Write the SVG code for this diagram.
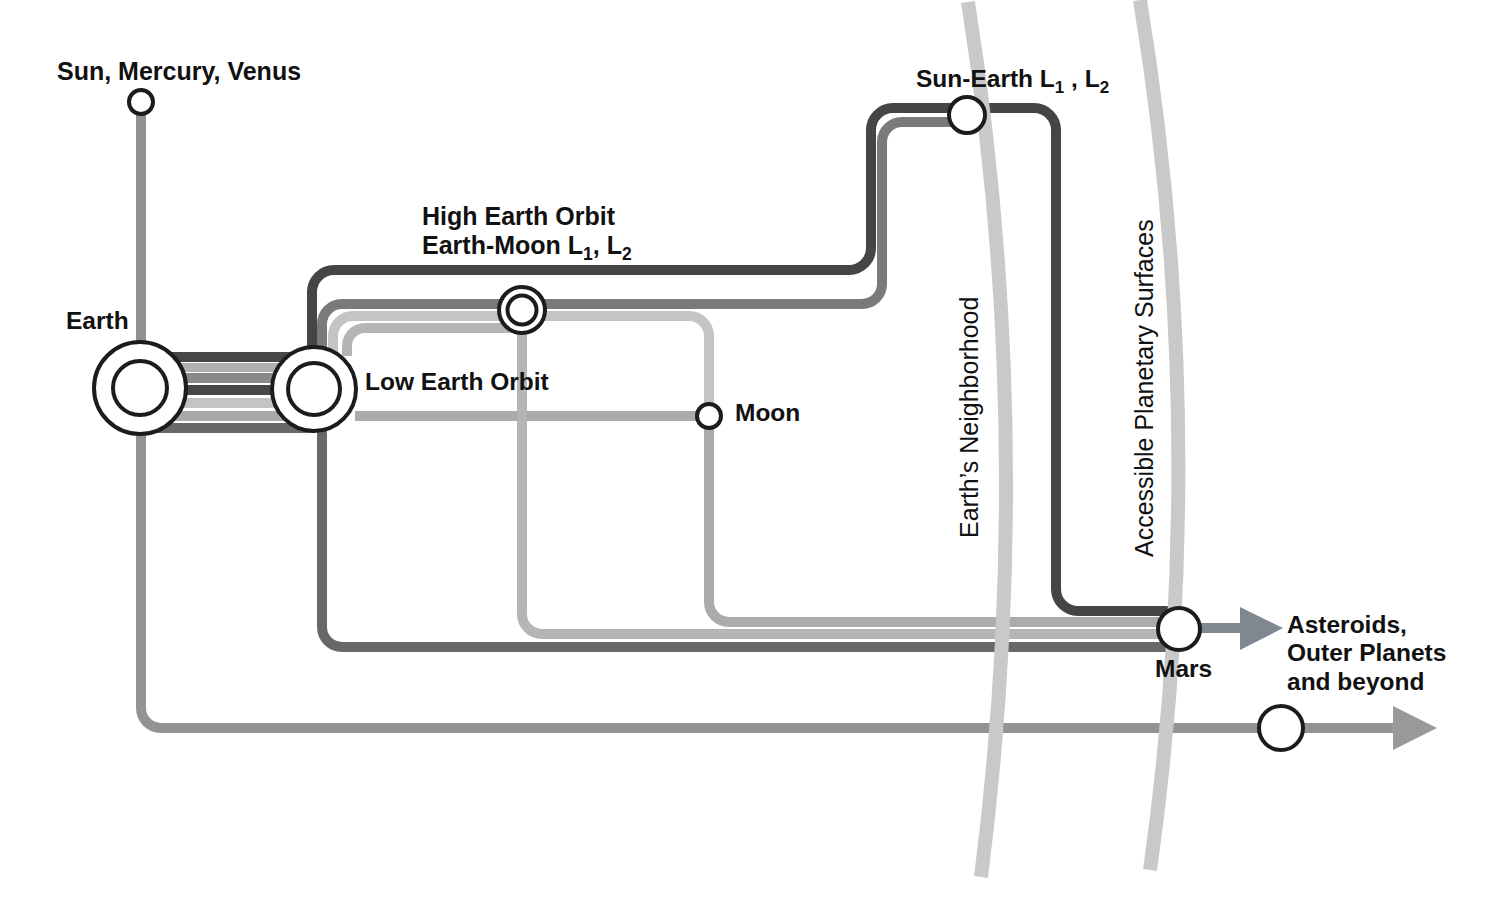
<svg xmlns="http://www.w3.org/2000/svg" width="1485" height="905" viewBox="0 0 1485 905">
<style>
.ln{fill:none;stroke-width:10;stroke-linecap:butt;stroke-linejoin:round}
.zone{fill:none;stroke:#c9c9c9;stroke-width:14}
.nd{fill:#fff;stroke:#1c1c1c;stroke-width:4}
.lbl{font-family:"Liberation Sans",Arial,sans-serif;font-weight:bold;font-size:24.5px;fill:#111}
.zl{font-family:"Liberation Sans",Arial,sans-serif;font-size:25px;fill:#111}
</style>
<rect width="1485" height="905" fill="#fff"/>
<g id="connectors">
  <rect x="141" y="352" width="173" height="10" fill="#474747"/>
  <rect x="141" y="363" width="173" height="9" fill="#b0b0b0"/>
  <rect x="141" y="373" width="173" height="10" fill="#8a8a8a"/>
  <rect x="141" y="385" width="173" height="10" fill="#474747"/>
  <rect x="141" y="398" width="173" height="10" fill="#c4c4c4"/>
  <rect x="141" y="411" width="173" height="10" fill="#a9a9a9"/>
  <rect x="141" y="423" width="173" height="10" fill="#686868"/>
  <path class="ln" stroke="#919191" d="M141,388 V102"/>
  <path class="ln" stroke="#939393" d="M141,388 V708 A20,20 0 0 0 161,728 H1396"/>
  <polygon fill="#9a9a9a" points="1393,706 1437,728 1393,750"/>
  <path class="ln" stroke="#686868" d="M322,420 V627 A20,20 0 0 0 342,647 H1180"/>
  <path class="ln" stroke="#ababab" d="M355,416 H709 V602 A20,20 0 0 0 729,622 H1180"/>
  <path class="ln" stroke="#b5b5b5" d="M347,356 V346 A18,18 0 0 1 365,328 H522 V614 A20,20 0 0 0 542,634 H1180"/>
  <path class="ln" stroke="#c4c4c4" d="M333,354 V336 A20,20 0 0 1 353,316 H689 A20,20 0 0 1 709,336 V416"/>
  <path class="ln" stroke="#7a7a7a" d="M322,352 V324 A20,20 0 0 1 342,304 H862 A20,20 0 0 0 882,284 V142 A20,20 0 0 1 902,122 H967"/>
  <path class="ln" stroke="#454545" d="M312,352 V292 A22,22 0 0 1 334,270 H849 A22,22 0 0 0 871,248 V130 A22,22 0 0 1 893,108 H1034 A22,22 0 0 1 1056,130 V589 A22,22 0 0 0 1078,611 H1180"/>
  <path class="ln" stroke="#7f8891" d="M1180,628 H1242"/>
  <polygon fill="#7f8891" points="1240,607 1283,628 1240,650"/>
</g>
<g id="zones">
  <path class="zone" d="M968,2 A3100,3100 0 0 1 981,877"/>
  <path class="zone" d="M1140,0 A2884,2884 0 0 1 1150,870"/>
  <text class="zl" transform="translate(978,538) rotate(-90)">Earth’s Neighborhood</text>
  <text class="zl" transform="translate(1153,557) rotate(-90)">Accessible Planetary Surfaces</text>
</g>
<g id="earth">
  <circle class="nd" cx="140" cy="388" r="46"/>
  <circle class="nd" cx="140" cy="388" r="27"/>
  <text class="lbl" x="66" y="329">Earth</text>
</g>
<g id="leo">
  <circle class="nd" cx="314" cy="389" r="42"/>
  <circle class="nd" cx="314" cy="389" r="26"/>
  <text class="lbl" x="365" y="390">Low Earth Orbit</text>
</g>
<g id="heo">
  <circle class="nd" cx="522" cy="310" r="23"/>
  <circle class="nd" cx="522" cy="310" r="14.5"/>
  <text class="lbl" x="422" y="225" style="font-size:25px">High Earth Orbit</text>
  <text class="lbl" x="422" y="254" style="font-size:25px">Earth-Moon L<tspan dy="6" font-size="17.5">1</tspan><tspan dy="-6">, L</tspan><tspan dy="6" font-size="17.5">2</tspan></text>
</g>
<g id="moon">
  <circle class="nd" cx="709" cy="416" r="12"/>
  <text class="lbl" x="735" y="421">Moon</text>
</g>
<g id="sun">
  <circle class="nd" cx="141" cy="102" r="12"/>
  <text class="lbl" x="57" y="80" style="font-size:25px">Sun, Mercury, Venus</text>
</g>
<g id="sun-earth-l">
  <circle class="nd" cx="967" cy="115" r="18"/>
  <text class="lbl" x="916" y="87">Sun-Earth L<tspan dy="6" font-size="17">1</tspan><tspan dy="-6"> , L</tspan><tspan dy="6" font-size="17">2</tspan></text>
</g>
<g id="mars">
  <circle class="nd" cx="1179" cy="629" r="21"/>
  <text class="lbl" x="1155" y="677">Mars</text>
</g>
<g id="asteroids">
  <text class="lbl" x="1287" y="633">Asteroids,</text>
  <text class="lbl" x="1287" y="661">Outer Planets</text>
  <text class="lbl" x="1287" y="690">and beyond</text>
</g>
<g id="beyond">
  <circle class="nd" cx="1281" cy="728" r="22"/>
</g>
</svg>
